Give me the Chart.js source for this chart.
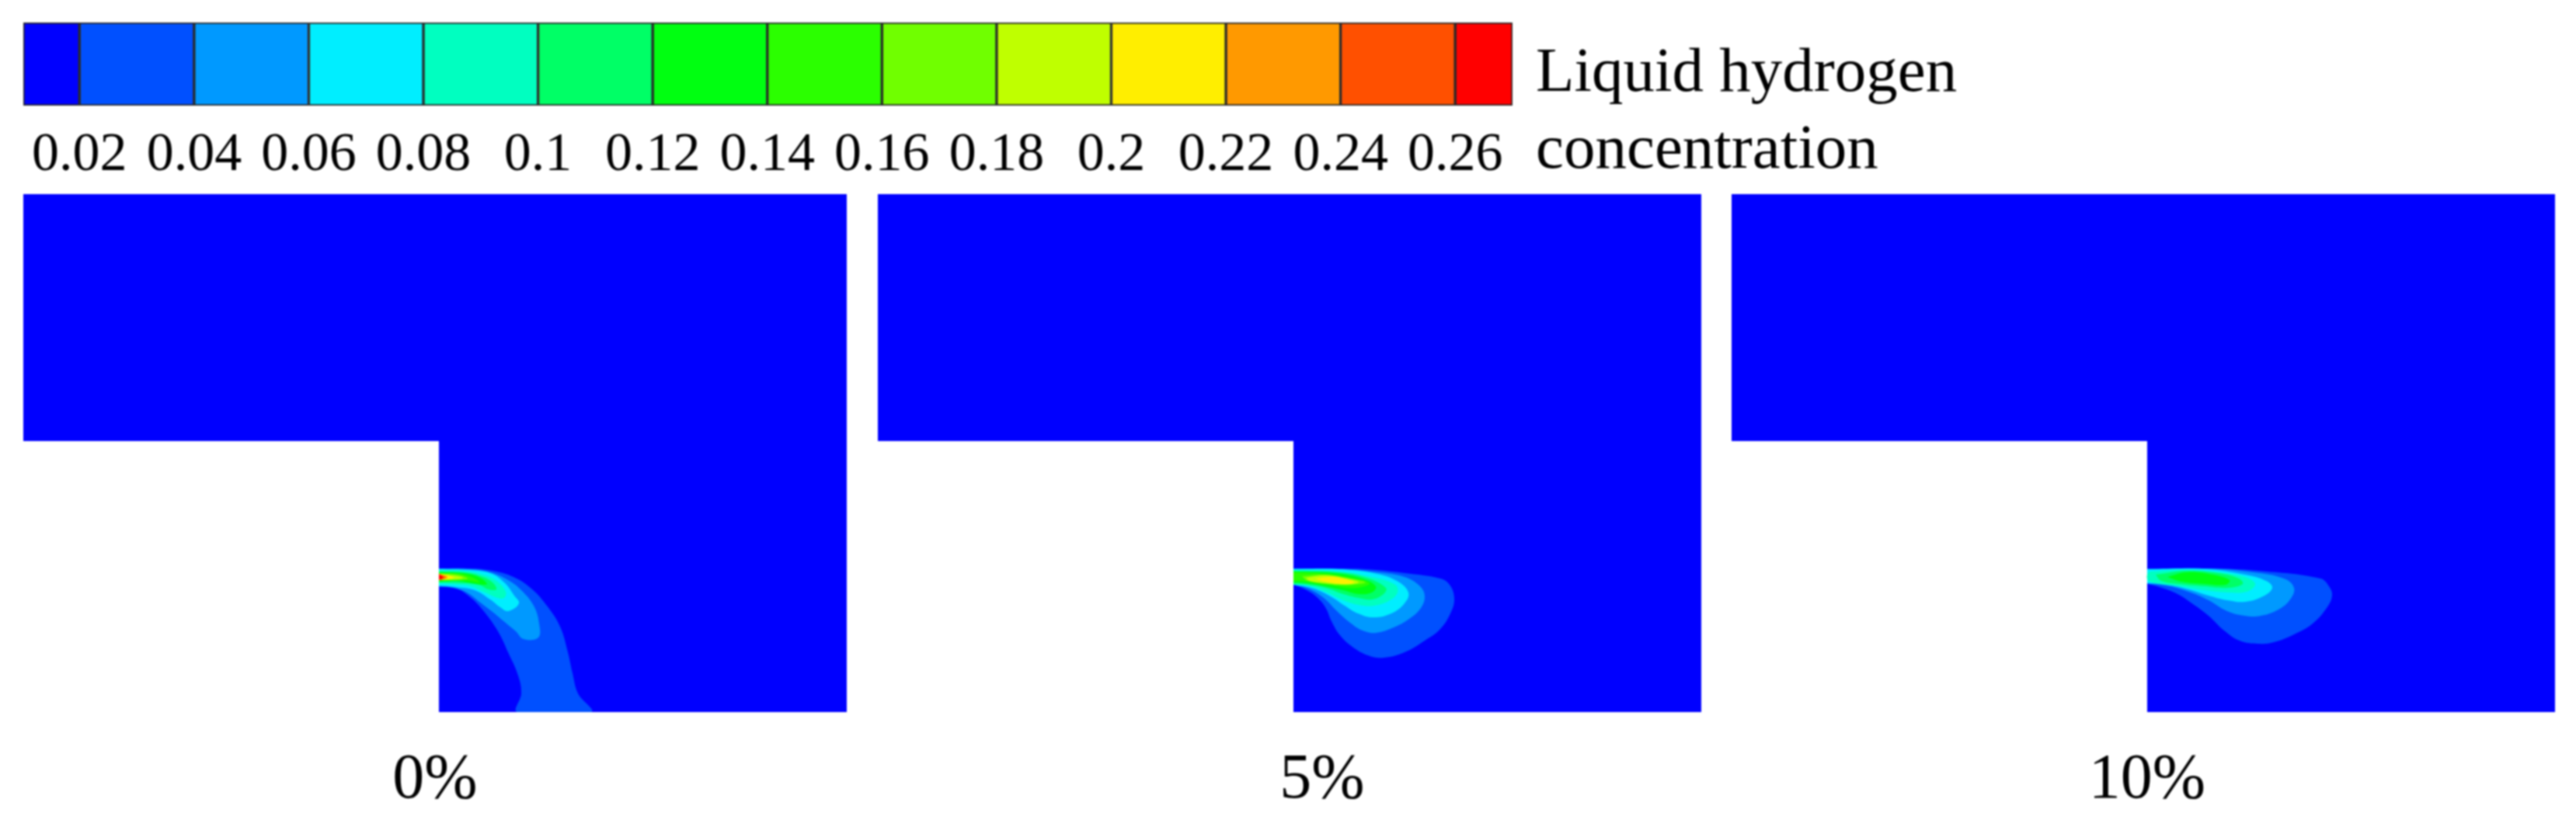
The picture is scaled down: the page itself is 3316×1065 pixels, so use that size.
<!DOCTYPE html>
<html>
<head>
<meta charset="utf-8">
<script src="https://cdn.jsdelivr.net/npm/chart.js@4"></script>
<style>
  html, body { margin: 0; background: #fff; }
  #page { position: relative; width: 3316px; height: 1065px; overflow: hidden; filter: blur(1.3px); font-family: 'Liberation Serif', serif; color: #000; }
  #page canvas { position: absolute; }
  .txt { position: absolute; line-height: 1; white-space: nowrap; font-size: 81px; }
  .cap { transform: translateX(-50%); font-size: 82px; }
</style>
</head>
<body>
<div id="page">
  <canvas id="colorbar" width="1917" height="214" style="left:30px;top:26px"></canvas>
  <canvas id="panel0" width="1060" height="667" style="left:30px;top:250px"></canvas>
  <canvas id="panel5" width="1060" height="667" style="left:1130px;top:250px"></canvas>
  <canvas id="panel10" width="1060" height="667" style="left:2229px;top:250px"></canvas>
  <div class="txt" style="left:1977px;top:50px" id="title1"></div>
  <div class="txt" style="left:1977px;top:149px" id="title2"></div>
  <div class="txt cap" style="left:560px;top:959px" id="cap0"></div>
  <div class="txt cap" style="left:1702px;top:959px" id="cap5"></div>
  <div class="txt cap" style="left:2764px;top:959px" id="cap10"></div>
</div>
<script>
// colour scale
const levelEdges = [0.0102, 0.02, 0.04, 0.06, 0.08, 0.1, 0.12, 0.14, 0.16, 0.18, 0.2, 0.22, 0.24, 0.26, 0.27];
const levelColors = ['#0000ff', '#0050ff', '#0099ff', '#00eeff', '#00ffc0', '#00ff66', '#00ff11',
  '#2bff00', '#70ff00', '#bfff00', '#ffee00', '#ff9900', '#ff5000', '#ff0000'];
const tickValues = [0.02, 0.04, 0.06, 0.08, 0.1, 0.12, 0.14, 0.16, 0.18, 0.2, 0.22, 0.24, 0.26];
const titleLines = ['Liquid hydrogen', 'concentration'];
const captions = ['0%', '5%', '10%'];

// flow domain outline, distance from the step corner
const domainX = [-535, 525, 525, 0, 0, -535];
const domainY = [667, 667, 0, 0, 349, 349];

// contour outlines, [x, y] in the same units
const p0Band1 = [[0,185],[39,185],[69,182],[96,174],[119,159],[139,137],[156,110],[166,77],[172,50],[179,24],[196,0],[101,0],[106,24],[102,47],[89,77],[76,104],[56,132],[39,149],[22,159],[0,161]];
const p0Band2 = [[0,185],[39,184],[66,180],[89,170],[106,157],[122,137],[129,114],[128,96],[109,94],[99,104],[87,114],[69,129],[52,142],[36,154],[19,160],[0,162]];
const p0Band3 = [[0,184],[39,183],[66,179],[84,167],[97,150],[103,140],[89,130],[79,135],[66,145],[46,157],[22,161],[0,163]];
const p0Band4 = [[0,183],[31,182],[57,177],[74,169],[86,155],[84,147],[76,147],[57,155],[41,162],[24,164],[0,165]];
const p0Band5 = [[0,181],[31,180],[54,175],[69,167],[74,158],[64,158],[51,164],[31,166],[0,167]];
const p0Band6 = [[0,180],[31,179],[51,174],[62,165],[56,164],[41,166],[24,169],[0,168]];
const p0Band7 = [[0,179],[27,178],[44,173],[52,167],[41,169],[24,170],[0,169]];
const p0Band8 = [[0,178],[24,177],[37,172],[27,170],[0,170]];
const p0Band9 = [[0,178],[17,176],[31,173],[19,171],[0,170.5]];
const p0Band10 = [[0,178],[11,176],[19,173],[11,171],[0,170.5]];
const p0Band11 = [[0,178],[7,176],[11,174],[7,171],[0,170]];
const p0Band12 = [[0,178],[4,176],[8,174],[4,171],[0,170]];
const p0Band13 = [[0,177],[4,175],[5,174],[4,172],[0,171]];
const p0Bands = [p0Band1, p0Band2, p0Band3, p0Band4, p0Band5, p0Band6, p0Band7, p0Band8, p0Band9, p0Band10, p0Band11, p0Band12, p0Band13];

const p5Band1 = [[0,185],[43,185],[93,184],[143,179],[189,172],[201,164],[207,147],[203,129],[189,107],[169,92],[143,77],[116,70],[96,73],[76,84],[59,100],[49,117],[41,135],[29,149],[13,159],[0,164]];
const p5Band2 = [[0,185],[59,184],[109,180],[143,174],[163,162],[169,149],[164,134],[149,120],[129,109],[106,102],[89,105],[73,115],[56,130],[39,147],[19,159],[0,164]];
const p5Band3 = [[0,184],[59,184],[103,179],[133,169],[148,154],[143,140],[126,127],[103,122],[83,127],[66,137],[46,150],[23,160],[0,164]];
const p5Band4 = [[0,183],[58,181],[101,174],[131,164],[134,154],[124,144],[104,137],[84,138],[64,144],[41,155],[18,163],[0,164]];
const p5Band5 = [[0,182],[58,180],[94,173],[119,160],[116,152],[101,145],[84,147],[64,152],[41,160],[18,164],[0,165]];
const p5Band6 = [[0,181],[51,179],[88,172],[106,162],[101,154],[84,152],[64,157],[41,162],[18,166],[0,167]];
const p5Band7 = [[0,180],[41,178],[78,172],[98,166],[88,161],[71,160],[44,164],[18,168],[0,169]];
const p5Band8 = [[11,175],[41,177],[74,172],[93,167],[74,164],[44,165],[18,169],[11,175]];
const p5Band9 = [[16,173],[41,176],[68,172],[84,167],[68,164],[41,166],[21,169],[16,173]];
const p5Band10 = [[28,172],[51,174],[71,170],[78,167],[64,165],[41,168],[28,172]];
const p5Bands = [p5Band1, p5Band2, p5Band3, p5Band4, p5Band5, p5Band6, p5Band7, p5Band8, p5Band9, p5Band10];

const p10Band1 = [[0,185],[76,185],[143,182],[223,172],[234,162],[238,150],[231,134],[213,114],[189,100],[163,90],[143,88],[119,92],[99,105],[79,124],[59,139],[39,152],[19,160],[0,165]];
const p10Band2 = [[0,184],[76,185],[136,180],[176,172],[189,160],[184,145],[169,132],[146,124],[126,124],[103,130],[79,144],[56,154],[29,162],[0,166]];
const p10Band3 = [[0,184],[76,184],[126,177],[153,169],[161,160],[149,149],[126,142],[103,144],[79,150],[53,158],[26,164],[0,166]];
const p10Band4 = [[4,181],[51,183],[101,179],[131,172],[139,164],[128,155],[104,154],[74,157],[41,162],[11,166],[1,170],[0,177],[4,181]];
const p10Band5 = [[11,177],[51,182],[91,179],[118,172],[123,165],[104,160],[74,162],[41,165],[18,169],[11,177]];
const p10Band6 = [[26,174],[51,180],[84,177],[106,170],[101,164],[74,165],[44,168],[26,174]];
const p10Bands = [p10Band1, p10Band2, p10Band3, p10Band4, p10Band5, p10Band6];

const serif = 'Liberation Serif';

document.getElementById('title1').textContent = titleLines[0];
document.getElementById('title2').textContent = titleLines[1];
document.getElementById('cap0').textContent = captions[0];
document.getElementById('cap5').textContent = captions[1];
document.getElementById('cap10').textContent = captions[2];

new Chart(document.getElementById('colorbar').getContext('2d'), {
  type: 'bar',
  data: {
    labels: [''],
    datasets: levelColors.map((c, i) => ({
      data: [[levelEdges[i], levelEdges[i + 1]]],
      backgroundColor: c,
      borderColor: '#2a2a2a',
      borderWidth: 2,
      borderSkipped: false,
      barPercentage: 1,
      categoryPercentage: 1,
      grouped: false
    }))
  },
  options: {
    indexAxis: 'y',
    responsive: false,
    animation: false,
    layout: { padding: { top: 3 } },
    plugins: { legend: { display: false }, tooltip: { enabled: false } },
    scales: {
      y: { display: false },
      x: {
        min: levelEdges[0],
        max: levelEdges[levelEdges.length - 1],
        grid: { display: false },
        border: { display: false },
        afterBuildTicks: s => { s.ticks = tickValues.map(v => ({ value: v })); },
        // bar must span the whole canvas width, the end labels fit inside it
        afterFit: s => { s.height = 104; s.paddingLeft = 0; s.paddingRight = 0; },
        ticks: {
          autoSkip: false,
          maxRotation: 0,
          padding: 15,
          color: '#000',
          font: { family: serif, size: 70 },
          callback: v => String(v)
        }
      }
    }
  }
});

function bandSet(points, level) {
  return {
    data: points.map(p => ({ x: p[0], y: p[1] })),
    backgroundColor: levelColors[level],
    borderWidth: 0,
    pointRadius: 0,
    tension: 0.4,
    fill: 'shape',
    order: -level
  };
}

function drawPanel(id, bands) {
  const domain = {
    data: domainX.map((x, i) => ({ x: x, y: domainY[i] })),
    backgroundColor: levelColors[0],
    borderWidth: 0,
    pointRadius: 0,
    tension: 0,
    fill: 'shape',
    order: 0
  };
  new Chart(document.getElementById(id).getContext('2d'), {
    type: 'line',
    data: { datasets: [domain].concat(bands.map((b, i) => bandSet(b, i + 1))) },
    options: {
      responsive: false,
      animation: false,
      plugins: { legend: { display: false }, tooltip: { enabled: false } },
      scales: {
        x: { type: 'linear', min: domainX[0], max: domainX[1], display: false },
        y: { type: 'linear', min: 0, max: domainY[0], display: false }
      }
    }
  });
}

drawPanel('panel0', p0Bands);
drawPanel('panel5', p5Bands);
drawPanel('panel10', p10Bands);
</script>
</body>
</html>
